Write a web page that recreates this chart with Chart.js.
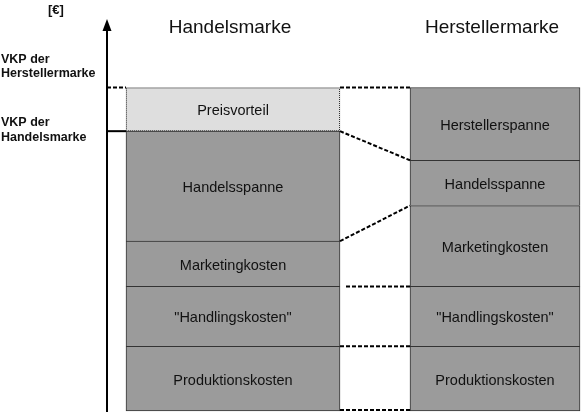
<!DOCTYPE html>
<html><head><meta charset="utf-8">
<script src="https://cdn.jsdelivr.net/npm/chart.js@4"></script>
<style>html,body{margin:0;padding:0;background:#fff;overflow:hidden}</style>
</head><body>
<canvas id="c" width="581" height="412" style="display:block;width:581px;height:412px"></canvas>
<script>
const categories = ['Handelsmarke', 'Herstellermarke'];
const segmentsHandel = ['Produktionskosten', '"Handlingskosten"', 'Marketingkosten', 'Handelsspanne', 'Preisvorteil'];
const valuesHandel = [20, 18.5, 14, 34, 13.5];
const segmentsHersteller = ['Produktionskosten', '"Handlingskosten"', 'Marketingkosten', 'Handelsspanne', 'Herstellerspanne'];
const valuesHersteller = [20, 18.5, 25, 14, 22.5];
const axisUnit = '[€]';
const levelLabels = [['VKP der', 'Herstellermarke'], ['VKP der', 'Handelsmarke']];

const FONT = '"Liberation Sans", Arial, sans-serif';
const GRAY = '#9b9b9b', LIGHT = '#dedede', EDGE = '#333333';

const datasets = [];
segmentsHandel.forEach((name, i) => {
  const top = i === segmentsHandel.length - 1;
  datasets.push({
    label: name, data: [valuesHandel[i], null], barThickness: 214,
    backgroundColor: top ? LIGHT : GRAY, borderColor: EDGE,
    borderWidth: top ? 0 : {top: 1, left: 1, right: 1, bottom: i === 0 ? 1 : 0},
    borderSkipped: false, clip: false, side: 0
  });
});
segmentsHersteller.forEach((name, i) => {
  datasets.push({
    label: name, data: [null, valuesHersteller[i]], barThickness: 170,
    backgroundColor: GRAY, borderColor: EDGE,
    borderWidth: {top: 1, left: 1, right: 1, bottom: i === 0 ? 1 : 0},
    borderSkipped: false, clip: false, side: 1
  });
});

const cum = arr => arr.reduce((a, v, i) => { a.push((a[i - 1] || 0) + v); return a; }, []);

const deco = {
  id: 'deco',
  afterDatasetsDraw(chart) {
    const ctx = chart.ctx, x = chart.scales.x, y = chart.scales.y;
    const nL = segmentsHandel.length;
    const elL = chart.getDatasetMeta(0).data[0];
    const elR = chart.getDatasetMeta(nL).data[1];
    const lRight = elL.x + elL.width / 2, lLeft = elL.x - elL.width / 2;
    const rLeft = elR.x - elR.width / 2;
    const axisX = lLeft - 19;
    const cL = cum(valuesHandel), cR = cum(valuesHersteller);
    const py = v => y.getPixelForValue(v);
    ctx.save();
    // dotted border of top (Preisvorteil) segment
    const pv = chart.getDatasetMeta(nL - 1).data[0];
    ctx.strokeStyle = EDGE; ctx.lineWidth = 1; ctx.setLineDash([1, 1]);
    ctx.strokeRect(lLeft + 0.5, pv.y + 0.5, elL.width - 1, pv.base - pv.y - 1);
    // labels inside bars
    ctx.setLineDash([]);
    ctx.fillStyle = '#111'; ctx.font = '14.5px ' + FONT;
    ctx.textAlign = 'center'; ctx.textBaseline = 'middle';
    chart.data.datasets.forEach((ds, di) => {
      const el = chart.getDatasetMeta(di).data[ds.side];
      ctx.fillText(ds.label, el.x, (el.y + el.base) / 2 + 2);
    });
    // titles
    ctx.font = '19px ' + FONT;
    categories.forEach((c, i) => ctx.fillText(c, x.getPixelForValue(i) - 3, 28));
    // axis arrow
    ctx.strokeStyle = '#000'; ctx.fillStyle = '#000'; ctx.lineWidth = 2;
    ctx.beginPath(); ctx.moveTo(axisX, chart.height); ctx.lineTo(axisX, 26); ctx.stroke();
    ctx.beginPath(); ctx.moveTo(axisX, 19); ctx.lineTo(axisX - 4.5, 31); ctx.lineTo(axisX + 4.5, 31); ctx.closePath(); ctx.fill();
    // solid VKP Handelsmarke level
    const yH = py(cL[nL - 2]);
    ctx.beginPath(); ctx.moveTo(axisX, yH); ctx.lineTo(lLeft, yH); ctx.stroke();
    // dashed connectors
    ctx.setLineDash([4, 2]);
    const yTop = py(cL[nL - 1]);
    const line = (x1, y1, x2, y2) => { ctx.beginPath(); ctx.moveTo(x1, y1); ctx.lineTo(x2, y2); ctx.stroke(); };
    line(axisX, yTop, lLeft, yTop);
    line(lRight, yTop, rLeft, yTop);
    line(lRight, py(cL[3]), rLeft, py(cR[3]));
    line(lRight, py(cL[2]), rLeft, py(cR[2]));
    line(lRight + 6, py(cL[1]), rLeft, py(cR[1]));
    line(lRight, py(cL[0]), rLeft, py(cR[0]));
    line(lRight, py(0) - 1, rLeft, py(0) - 1);
    ctx.setLineDash([]);
    // left labels
    ctx.fillStyle = '#111'; ctx.textAlign = 'left';
    ctx.font = 'bold 13px ' + FONT;
    ctx.fillText(axisUnit, 48, 10);
    ctx.font = 'bold 12.5px ' + FONT;
    ctx.fillText(levelLabels[0][0], 1, yTop - 27.5);
    ctx.fillText(levelLabels[0][1], 1, yTop - 13.5);
    ctx.fillText(levelLabels[1][0], 1, yH - 9);
    ctx.fillText(levelLabels[1][1], 1, yH + 6);
    ctx.restore();
  }
};

new Chart(document.getElementById('c'), {
  type: 'bar',
  data: { labels: categories, datasets },
  options: {
    responsive: false, animation: false,
    layout: { padding: { left: 233, right: 86, top: 87.5, bottom: 1 } },
    plugins: { legend: { display: false }, tooltip: { enabled: false } },
    scales: {
      x: { type: 'category', offset: false, stacked: true, display: false },
      y: { stacked: true, min: 0, max: 100, display: false }
    }
  },
  plugins: [deco]
});
</script>
</body></html>
